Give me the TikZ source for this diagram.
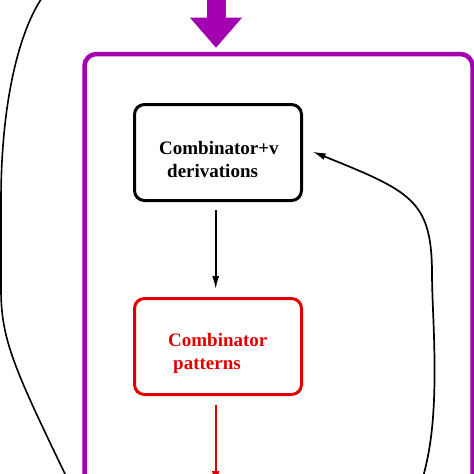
\documentclass[tikz,border=0pt]{standalone}
\usepackage{fontspec}
\setmainfont{Liberation Serif}
\usetikzlibrary{arrows.meta}
\definecolor{frameC}{RGB}{163,0,178}
\definecolor{pattC}{RGB}{225,0,0}
\begin{document}
\begin{tikzpicture}[x=1pt,y=-1pt,
  frame/.style={draw=frameC, line width=4.5pt, rounded corners=12pt, minimum width=388pt, minimum height=506pt, inner sep=0pt},
  boxA/.style={draw, rounded corners=10pt, line width=3pt, minimum width=167pt, minimum height=96pt, inner sep=0pt},
  boxB/.style={boxA, draw=pattC},
  txt/.style={anchor=base west, inner sep=0pt, font=\bfseries\fontsize{19}{23}\selectfont},
  conn/.style={line width=1.7pt, -{Latex[length=13pt,width=7pt]}},
  redconn/.style={line width=1.9pt, draw=pattC, fill=pattC, -{Latex[length=13pt,width=8pt]}},
  bigarrow/.style={draw=frameC, line width=19pt, -{Triangle[length=30pt,width=52pt,line width=0pt]}}
]
\useasboundingbox (0,0) rectangle (474,474);
\clip (0,0) rectangle (474,474);
\node[frame] (frame) at (278.5,307) {};
\node[boxA] (deriv) at (218,152.5) {};
\node[boxB] (patt) at (218,346.5) {};
\node[txt] (d1) at (159,154) {Combinator+v};
\node[txt] (d2) at (167,177) {derivations};
\node[txt, text=pattC] (p1) at (168,346) {Combinator};
\node[txt, text=pattC] (p2) at (173,369) {patterns};
\coordinate (inTop) at (216,-10);
\coordinate (inTip) at (216,47.7);
\coordinate (outTip) at (215.7,484);
\coordinate (lt) at (42,-2);
\coordinate (lb) at (66,476);
\coordinate (rb) at (423,477);
\draw[bigarrow] (inTop) -- (inTip);
\draw[conn, shorten <=8pt, shorten >=8pt] ([xshift=-2.3pt]deriv.south) -- ([xshift=-2.3pt]patt.north);
\draw[redconn, shorten <=9pt] ([xshift=-2.3pt]patt.south) -- (outTip);
\draw[line width=1.6pt] (lt) .. controls (20,30) and (1,100) .. (1,200) -- (1,290) .. controls (1,340) and (15,370) .. (lb);
\draw[conn] (rb) .. controls (432,445) and (435,410) .. (434.5,360) .. controls (434,320) and (432,300) .. (432,270) .. controls (431,200) and (410,191) .. ([xshift=9.7pt,yshift=0.8pt]deriv.east);
\end{tikzpicture}
\end{document}
